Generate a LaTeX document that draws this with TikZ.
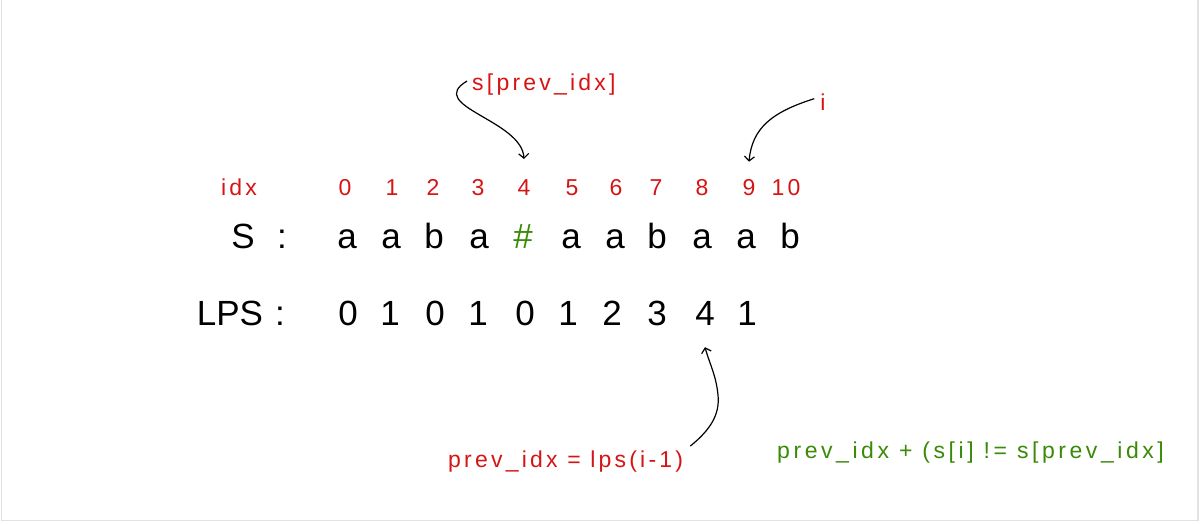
\documentclass[tikz,border=0pt]{standalone}
\usepackage{fontspec}
\setmainfont{Liberation Sans}
\newfontfamily\spacedfont[LetterSpace=14]{Liberation Sans}
\newfontfamily\widefont[LetterSpace=15.5]{Liberation Sans}
\usetikzlibrary{arrows.meta}
\definecolor{lblred}{RGB}{214,20,20}
\definecolor{lblgreen}{RGB}{58,138,8}
\definecolor{frame}{RGB}{226,226,226}
\tikzset{
  big/.style={anchor=base,inner sep=0pt,font=\fontsize{35}{40}\selectfont,text=black},
  idxnum/.style={anchor=base,inner sep=0pt,font=\spacedfont\fontsize{23}{26}\selectfont,text=lblred},
  redlbl/.style={anchor=base west,inner sep=0pt,font=\spacedfont\fontsize{23}{26}\selectfont,text=lblred},
  greenlbl/.style={anchor=base west,inner sep=0pt,font=\widefont\fontsize{23}{26}\selectfont,text=lblgreen},
  pointer/.style={line width=1.2pt,-{Straight Barb[length=4.5pt,width=10pt]}}
}
\begin{document}
\begin{tikzpicture}[x=1pt,y=-1pt]
\useasboundingbox (0,0) rectangle (1200,523);
\draw[frame,line width=1.5pt] (1.5,0) -- (1.5,520.5) -- (1198,520.5) -- (1198,0);
% idx row
\node[idxnum] (idxlab) at (239,195) {idx};
\foreach \n/\x in {0/345,1/392,2/433,3/478,4/524,5/572,6/616,7/656,8/702,9/749,10/786}
  \node[idxnum] (d\n) at (\x,195) {\n};
% S row
\node[big] (Slab) at (243,248) {S};
\node[big] (Scolon) at (282,248) {:};
\foreach \n/\x/\c in {0/347/a,1/391/a,2/434/b,3/479/a,5/571/a,6/615/a,7/657/b,8/702/a,9/746/a,10/790/b}
  \node[big] (s\n) at (\x,248) {\c};
\node[big,text=lblgreen] (s4) at (523,248) {\#};
% LPS row
\node[big] (LPSlab) at (230,325) {LPS};
\node[big] (LPScolon) at (280,325) {:};
\foreach \n/\x/\v in {0/348/0,1/390/1,2/435/0,3/478/1,4/525/0,5/568/1,6/612/2,7/657/3,8/705/4,9/747/1}
  \node[big] (l\n) at (\x,325) {\v};
% labels
\node[redlbl] (lbltop) at (472,90) {s[prev\_idx]};
\node[idxnum] (lbli) at (823,110) {i};
\node[redlbl] (lblprev) at (448,467) {prev\_idx = lps(i-1)};
\node[greenlbl] (lblgreen) at (777,458) {prev\_idx + (s[i] != s[prev\_idx]};
% pointers
\draw[pointer] ([xshift=-5pt,yshift=3pt]lbltop.west) .. controls (425,106) and (522,120) .. ([yshift=20pt]d4.north);
\draw[pointer] ([xshift=-6pt,yshift=3pt]lbli.west) .. controls (772,112) and (752,128) .. ([yshift=17pt]d9.north);
\draw[pointer] ([xshift=7pt,yshift=15pt]lblprev.east) .. controls (710,430) and (720,415) .. (718,395)
  .. controls (716,375) and (710,365) .. ([yshift=-22pt]l8.south);
\end{tikzpicture}
\end{document}
